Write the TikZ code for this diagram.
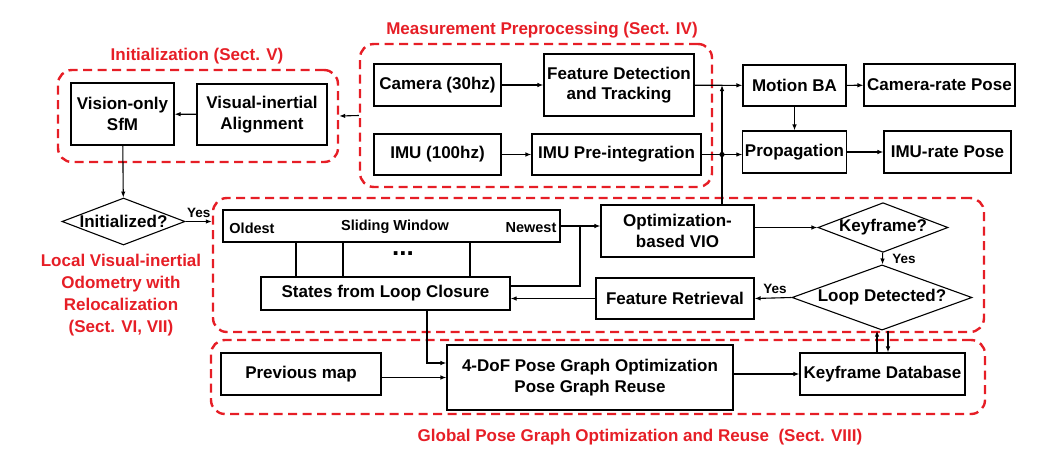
\documentclass[tikz,border=0pt]{standalone}
\usepackage{fontspec}
\setmainfont{Liberation Sans}
\usetikzlibrary{arrows,arrows.meta,shapes.geometric}
\definecolor{sectred}{RGB}{230,30,38}

\begin{document}
\begin{tikzpicture}[x=1pt,y=-1pt,
  box/.style={draw,line width=1.1pt,inner sep=2pt,align=center,
    font=\fontsize{17}{20.5}\selectfont\bfseries},
  cond/.style={diamond,draw,line width=1.1pt,inner sep=0pt,aspect=2.6,
    font=\fontsize{17}{20.5}\selectfont\bfseries},
  region/.style={draw=sectred,dash pattern=on 9pt off 5.5pt,line width=2.4pt,
    rounded corners=14pt},
  sect/.style={text=sectred,align=center,font=\fontsize{17}{22}\selectfont\bfseries},
  tag/.style={font=\fontsize{13.5}{16}\selectfont\bfseries},
  wtext/.style={font=\fontsize{14.5}{17}\selectfont\bfseries},
  flow/.style={-{Latex[length=6pt,width=4.5pt]},line width=1.1pt},
  link/.style={line width=1.1pt}]
\useasboundingbox (0,0) rectangle (1046,456);

\node[region,minimum width=280pt,minimum height=92pt] (R1) at (198,116) {};
\node[region,minimum width=352pt,minimum height=143pt] (R2) at (536,115.5) {};
\node[region,minimum width=771pt,minimum height=134pt] (R3) at (598.5,265) {};
\node[region,minimum width=774pt,minimum height=74pt] (R4) at (598,377) {};

\node[sect] (S1) at (197,56) {Initialization (Sect. V)};
\node[sect] (S2) at (542,30) {Measurement Preprocessing (Sect. IV)};
\node[sect] (S3) at (121,295) {Local Visual-inertial\\Odometry with\\Relocalization\\(Sect. VI, VII)};
\node[sect] (S4) at (640,437) {Global Pose Graph Optimization and Reuse\ \ (Sect. VIII)};

\node[box,minimum width=103pt,minimum height=62pt] (Sfm) at (122.5,114) {Vision-only\\SfM};
\node[box,minimum width=130pt,minimum height=61pt] (Align) at (262,114.5) {Visual-inertial\\Alignment};
\node[box,minimum width=127pt,minimum height=42pt] (Cam) at (437.5,85) {Camera (30hz)};
\node[box,minimum width=127pt,minimum height=41pt] (Imu) at (437.5,154.5) {IMU (100hz)};
\node[box,minimum width=150pt,minimum height=62pt] (Feat) at (619,85) {Feature Detection\\and Tracking};
\node[box,minimum width=169pt,minimum height=41pt] (Preint) at (616.5,154.5) {IMU Pre-integration};
\node[box,minimum width=103pt,minimum height=41pt] (Mba) at (794.5,85.5) {Motion BA};
\node[box,minimum width=151pt,minimum height=42pt] (CamPose) at (939.5,85) {Camera-rate Pose};
\node[box,minimum width=103pt,minimum height=42pt] (Prop) at (794.5,152) {Propagation};
\node[box,minimum width=127pt,minimum height=42pt] (ImuPose) at (947.5,152) {IMU-rate Pose};

\node[cond,minimum width=123pt,minimum height=47pt] (Init) at (123.5,221.5) {Initialized?};
\node[box,minimum width=337pt,minimum height=32pt] (Win) at (391.5,226) {};
\node[wtext] (W1) at (252,228) {Oldest};
\node[wtext] (W2) at (395,227) {Sliding Window};
\node[wtext] (W3) at (531,228) {Newest};
\node[font=\fontsize{26}{26}\selectfont\bfseries] (Dots) at (403,254) {...};
\node[box,minimum width=249pt,minimum height=33pt] (States) at (385.5,293.5) {States from Loop Closure};
\node[box,minimum width=153pt,minimum height=52pt] (Vio) at (677.5,231) {Optimization-\\based VIO};
\node[cond,minimum width=130pt,minimum height=47pt] (Kf) at (883,227.5) {Keyframe?};
\node[cond,minimum width=180pt,minimum height=49pt] (Loop) at (882,297.5) {Loop Detected?};
\node[box,minimum width=158pt,minimum height=41pt] (Retr) at (675,298.5) {Feature Retrieval};
\node[box,minimum width=160pt,minimum height=42pt] (Prev) at (301,374) {Previous map};
\node[box,minimum width=286pt,minimum height=65pt] (Pgo) at (590,377.5) {4-DoF Pose Graph Optimization\\Pose Graph Reuse};
\node[box,minimum width=165pt,minimum height=42pt] (KfDb) at (882.5,374) {Keyframe Database};

\coordinate (J1) at (722,85);
\coordinate (J2) at (722,154.5);
\coordinate (J3) at (580,226);
\coordinate (J4) at (580,286);
\coordinate (J5) at (427,363);

\draw[flow] (Cam) -- (Feat);
\draw[flow] (Imu) -- (Preint);
\draw[flow] (Feat) -- (Mba);
\draw[flow] (Preint.east) -- (Preint.east -| Prop.west);
\draw[flow] (Vio.north -| J1) -- (J1);
\fill (J2) circle (2.6pt);
\draw[flow] (Mba) -- (CamPose);
\draw[flow] (Mba) -- (Prop);
\draw[flow] (Prop.east) -- (Prop.east -| ImuPose.west);
\draw[flow] (R2.west) -- (R1.east);
\draw[flow] (Align) -- (Sfm);
\draw[flow] (Sfm) -- (Init);
\draw[flow] (Init.east) -- (Init.east -| R3.west) node[tag,midway,above] {Yes};
\draw[flow] (Win.east) -- (Win.east -| Vio.west);
\draw[link] (J3) -- (J4) -- (J4 -| States.east);
\draw[flow] (Retr.west) -- (Retr.west -| States.east);
\foreach \x in {296,343,470}
  \draw[link] (Win.south -| \x,0) -- (States.north -| \x,0);
\draw[flow] (Kf.west -| Vio.east) -- (Kf.west);
\draw[flow] (Kf) -- (Loop) node[tag,midway,right,xshift=6pt] {Yes};
\draw[flow] (Loop.west) -- (Retr.east) node[tag,midway,above,xshift=2pt] {Yes};
\draw[flow] (States.south -| J5) -- (J5) -- (J5 -| Pgo.west);
\draw[flow] (Pgo.west -| Prev.east) -- (Pgo.west);
\draw[flow] (Pgo.east |- KfDb.west) -- (KfDb.west);
\draw[flow] (KfDb.north -| 877,0) -- (Loop.south -| 877,0);
\draw[flow] (Loop.south -| 888,0) -- (KfDb.north -| 888,0);
\end{tikzpicture}
\end{document}
